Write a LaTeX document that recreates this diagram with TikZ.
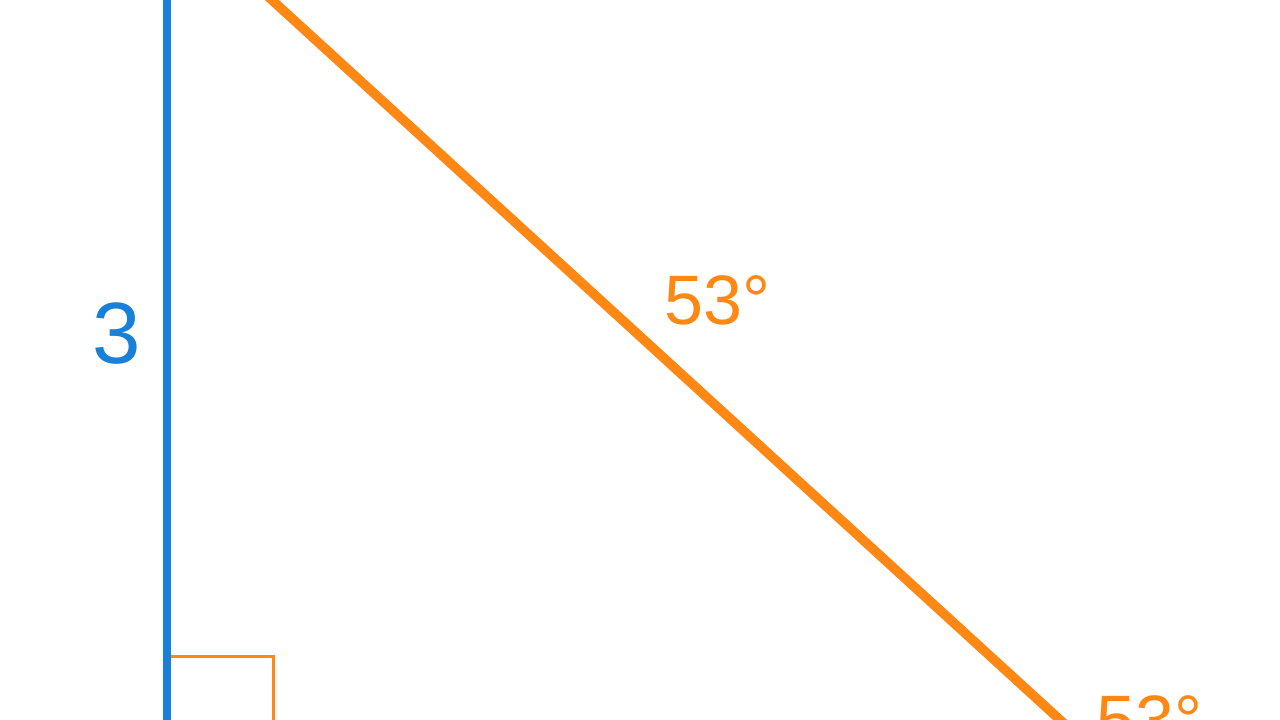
\documentclass[tikz,border=0pt]{standalone}
\usepackage{fontspec}
\setmainfont{Liberation Sans}
\definecolor{legblue}{RGB}{24,128,214}
\definecolor{hypor}{RGB}{255,136,20}
\begin{document}
\begin{tikzpicture}[x=1pt,y=-1pt,
  legline/.style={draw=legblue,line width=8pt},
  hypline/.style={draw=hypor,line width=9.5pt},
  rightmark/.style={draw=hypor,line width=3pt},
  bluelabel/.style={text=legblue,inner sep=0pt,font=\fontsize{87}{87}\selectfont},
  anglelabel/.style={text=hypor,inner sep=0pt,font=\fontsize{70}{70}\selectfont}]
\useasboundingbox (0,0) rectangle (1280,720);
\clip (0,0) rectangle (1280,720);
\fill[white] (0,0) rectangle (1280,720);
\coordinate (top) at (167,-20);
\coordinate (bottom) at (167,740);
\coordinate (htop) at (250,-20);
\coordinate (hbot) at (1082,740);
\draw[legline] (top) -- (bottom);
\draw[hypline] (htop) -- (hbot);
\draw[rightmark] (171,656) -- (273,656) -- (273,740);
\node[bluelabel,anchor=south west] (three) at (92,365) {3};
\node[anglelabel,anchor=south west] (angA) at (664,325) {53°};
\node[anglelabel,anchor=south west] (angB) at (1096,745) {53°};
\end{tikzpicture}
\end{document}
